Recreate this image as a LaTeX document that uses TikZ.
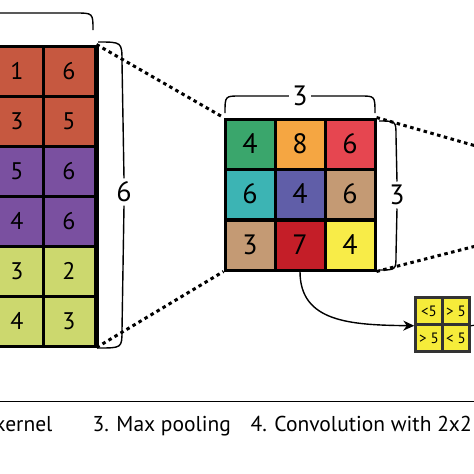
\documentclass[tikz,border=0pt]{standalone}
\usepackage{fontspec}
\setmainfont{PT Sans}
\usetikzlibrary{arrows.meta}

\definecolor{rowRed}{RGB}{198,88,64}
\definecolor{rowPurple}{RGB}{122,80,160}
\definecolor{rowLime}{RGB}{204,216,110}
\definecolor{poolGreen}{RGB}{58,166,108}
\definecolor{poolOrange}{RGB}{245,166,66}
\definecolor{poolRed}{RGB}{230,70,80}
\definecolor{poolTeal}{RGB}{60,180,180}
\definecolor{poolBlue}{RGB}{96,94,168}
\definecolor{poolTan}{RGB}{196,154,116}
\definecolor{poolDark}{RGB}{196,30,40}
\definecolor{poolYellow}{RGB}{248,236,72}
\definecolor{smallYellow}{RGB}{246,236,58}

\newcommand{\numfont}{\fontsize{24}{24}\selectfont}
\newcommand{\bigfont}{\fontsize{28}{28}\selectfont}
\newcommand{\capfont}{\fontsize{21.5}{21.5}\selectfont}

\tikzset{
  lcell/.style={draw=black,line width=3pt,minimum width=52pt,minimum height=50pt,
    inner sep=0pt,font=\numfont},
  mcell/.style={draw=black,line width=3pt,minimum size=50pt,inner sep=0pt,font=\bigfont},
  scell/.style={draw=black!80,line width=2.5pt,minimum size=27pt,inner sep=0pt,
    font=\fontsize{15}{15}\selectfont},
  brace/.style={line width=1.4pt},
  dots/.style={line width=3pt,dash pattern=on 3.5pt off 3.5pt},
  arr/.style={line width=1.4pt,-{Stealth[length=11pt,width=10pt]}},
}

\begin{document}
\begin{tikzpicture}[x=1pt,y=-1pt]
  \useasboundingbox (0,0) rectangle (474,474);
  % input (6 x 2, cut at the left)
  \node[lcell,fill=rowRed]    (l11) at (17,71)  {1};
  \node[lcell,fill=rowRed]    (l12) at (69,71)  {6};
  \node[lcell,fill=rowRed]    (l21) at (17,121) {3};
  \node[lcell,fill=rowRed]    (l22) at (69,121) {5};
  \node[lcell,fill=rowPurple] (l31) at (17,171) {5};
  \node[lcell,fill=rowPurple] (l32) at (69,171) {6};
  \node[lcell,fill=rowPurple] (l41) at (17,221) {4};
  \node[lcell,fill=rowPurple] (l42) at (69,221) {6};
  \node[lcell,fill=rowLime]   (l51) at (17,271) {3};
  \node[lcell,fill=rowLime]   (l52) at (69,271) {2};
  \node[lcell,fill=rowLime]   (l61) at (17,321) {4};
  \node[lcell,fill=rowLime]   (l62) at (69,321) {3};
  \draw[line width=4pt] (l12.north east) -- (l62.south east);

  % braces of the input
  \draw[brace] (-5,13) -- (75,13) .. controls (93,13) .. (93,30);
  \node[font=\bigfont] (six) at (124,192) {6};
  \draw[brace] (98,42) .. controls (122,42) .. (122,62) -- (six.north);
  \draw[brace] (six.south) -- (122,330) .. controls (122,348) .. (98,348);

  % pooled map (3 x 3)
  \node[mcell,fill=poolGreen]  (m11) at (250,144) {4};
  \node[mcell,fill=poolOrange] (m12) at (300,144) {8};
  \node[mcell,fill=poolRed]    (m13) at (350,144) {6};
  \node[mcell,fill=poolTeal]   (m21) at (250,194) {6};
  \node[mcell,fill=poolBlue]   (m22) at (300,194) {4};
  \node[mcell,fill=poolTan]    (m23) at (350,194) {6};
  \node[mcell,fill=poolTan]    (m31) at (250,245) {3};
  \node[mcell,fill=poolDark]   (m32) at (300,245) {7};
  \node[mcell,fill=poolYellow] (m33) at (350,245) {4};

  % braces of the pooled map
  \node[font=\bigfont] (topthree) at (300,96) {3};
  \draw[brace] (225,113) .. controls (225,96) .. (240,96) -- (topthree.west);
  \draw[brace] (topthree.east) -- (360,96) .. controls (375,96) .. (375,113);
  \node[font=\bigfont] (sidethree) at (397,195) {3};
  \draw[brace] (379,121) .. controls (396,121) .. (396,136) -- (sidethree.north);
  \draw[brace] (sidethree.south) -- (396,255) .. controls (396,270) .. (379,270);

  % dotted projections
  \coordinate (outtop) at (476,146);
  \coordinate (outbot) at (476,246);
  \draw[dots] (l12.north east) -- (m11.north west);
  \draw[dots] (l62.south east) -- (m31.south west);
  \draw[dots] (m13.north east) -- (outtop);
  \draw[dots] (m33.south east) -- (outbot);

  % thresholded 2 x 2
  \node[scell,fill=smallYellow] (s11) at (429,311) {<5};
  \node[scell,fill=smallYellow] (s12) at (456,311) {> 5};
  \node[scell,fill=smallYellow] (s21) at (429,338) {> 5};
  \node[scell,fill=smallYellow] (s22) at (456,338) {< 5};
  \coordinate (sout) at (476,325);
  \draw[line width=1.2pt] (s12.south east) -- (sout);
  \draw[arr] (m32.south) .. controls (300,322) and (350,325) .. (s11.south west);

  % captions
  \draw[line width=1pt] (-2,401) -- (476,401);
  \node[font=\capfont,anchor=base east] (capkernel) at (56,431) {kernel};
  \node[font=\capfont,anchor=base west] (cappool) at (89,431) {3. Max pooling};
  \node[font=\capfont,anchor=base west] (capconv) at (247,431) {4. Convolution with 2x2};
\end{tikzpicture}
\end{document}
